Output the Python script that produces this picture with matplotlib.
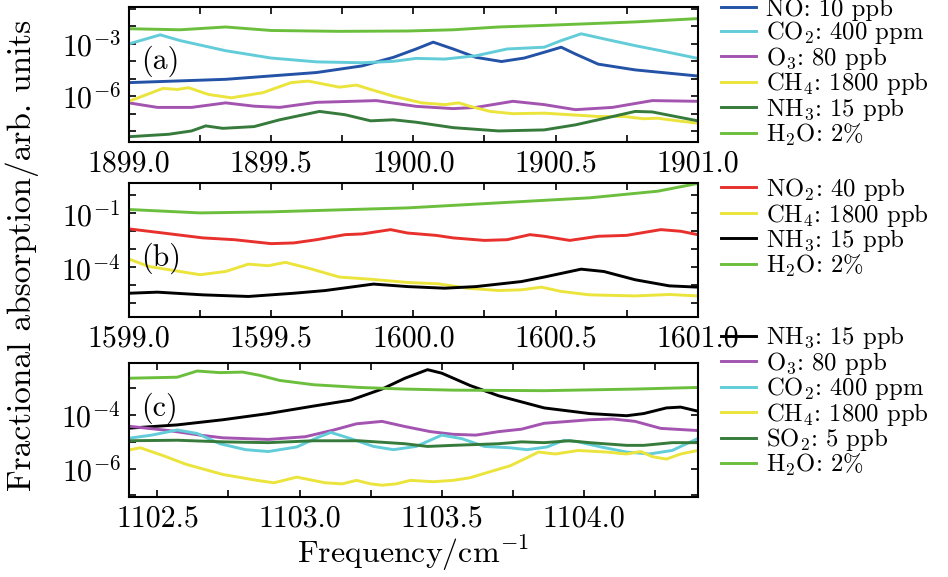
import matplotlib
matplotlib.use('Agg')
import matplotlib.pyplot as plt
import numpy as np
from matplotlib.ticker import MultipleLocator, NullLocator

plt.rcParams['font.family'] = 'serif'
plt.rcParams['font.serif'] = ['cmr10']
plt.rcParams['mathtext.fontset'] = 'cm'
plt.rcParams['axes.formatter.use_mathtext'] = True
plt.rcParams['axes.unicode_minus'] = False

# colours
c_no = '#2352a6'
c_co2 = '#62ccd9'
c_o3 = '#a354b0'
c_ch4 = '#ebe43c'
c_nh3g = '#367b3b'
c_h2o = '#6bbf3d'
c_no2 = '#e8302c'
c_blk = '#000000'

# ---- panel (a): 1899-1901 cm-1, values as log10(absorption) ----
a_h2o_f = [1899.00, 1899.18, 1899.34, 1899.50, 1899.74, 1899.98, 1900.14, 1900.30,
           1900.46, 1900.62, 1900.78, 1901.00]
a_h2o_v = [-2.13, -2.19, -2.03, -2.23, -2.28, -2.26, -2.19, -2.03,
           -1.94, -1.84, -1.74, -1.55]

a_co2_f = [1899.00, 1899.11, 1899.18, 1899.34, 1899.50, 1899.66, 1899.82, 1899.93,
           1900.01, 1900.11, 1900.22, 1900.33, 1900.46, 1900.52, 1900.59, 1900.67,
           1900.78, 1900.87, 1901.00]
a_co2_v = [-3.00, -2.48, -2.81, -3.39, -3.81, -4.03, -4.08, -4.00,
           -3.83, -3.87, -3.68, -3.29, -3.19, -2.81, -2.42, -2.71,
           -3.10, -3.39, -3.83]

a_no_f = [1899.00, 1899.34, 1899.66, 1899.82, 1899.93, 1900.01, 1900.07, 1900.14,
          1900.22, 1900.31, 1900.39, 1900.46, 1900.52, 1900.57, 1900.65, 1900.78,
          1901.00]
a_no_v = [-5.22, -5.03, -4.64, -4.26, -3.77, -3.29, -2.90, -3.29,
          -3.77, -4.01, -3.81, -3.48, -3.19, -3.58, -4.16, -4.49,
          -4.84]

a_o3_f = [1899.00, 1899.10, 1899.22, 1899.34, 1899.44, 1899.53, 1899.66, 1899.87,
          1900.01, 1900.14, 1900.22, 1900.35, 1900.46, 1900.57, 1900.70, 1900.84,
          1901.00]
a_o3_v = [-6.38, -6.64, -6.64, -6.38, -6.57, -6.64, -6.35, -6.25,
          -6.58, -6.71, -6.64, -6.29, -6.48, -6.77, -6.64, -6.25,
          -6.29]

a_ch4_f = [1899.00, 1899.12, 1899.17, 1899.21, 1899.28, 1899.36, 1899.47, 1899.57,
           1899.63, 1899.69, 1899.74, 1899.80, 1899.85, 1899.93, 1900.03, 1900.11,
           1900.16, 1900.20, 1900.27, 1900.35, 1900.46, 1900.55, 1900.65, 1900.74,
           1900.81, 1900.86, 1900.90, 1901.00]
a_ch4_v = [-6.29, -5.55, -5.61, -5.51, -5.90, -6.09, -5.80, -5.22,
           -5.13, -5.32, -5.48, -5.36, -5.61, -6.00, -6.38, -6.48,
           -6.38, -6.58, -6.87, -7.00, -6.97, -7.06, -7.16, -7.16,
           -7.29, -7.26, -7.35, -7.55]

a_nh3_f = [1899.00, 1899.14, 1899.22, 1899.27, 1899.33, 1899.44, 1899.53, 1899.67,
           1899.76, 1899.85, 1899.93, 1900.01, 1900.14, 1900.30, 1900.46, 1900.57,
           1900.65, 1900.78, 1900.84, 1901.00]
a_nh3_v = [-8.32, -8.18, -7.99, -7.70, -7.84, -7.74, -7.35, -6.87,
           -7.06, -7.41, -7.35, -7.49, -7.80, -7.99, -7.93, -7.64,
           -7.35, -6.87, -6.90, -7.41]

# ---- panel (b): 1599-1601 cm-1 ----
b_h2o_f = [1599.00, 1599.25, 1599.50, 1599.98, 1600.30, 1600.62, 1600.86, 1601.00]
b_h2o_v = [-0.78, -0.97, -0.91, -0.69, -0.41, -0.13, 0.24, 0.67]

b_no2_f = [1599.00, 1599.10, 1599.26, 1599.37, 1599.50, 1599.58, 1599.66, 1599.76,
           1599.82, 1599.92, 1599.98, 1600.08, 1600.14, 1600.25, 1600.33, 1600.41,
           1600.46, 1600.55, 1600.65, 1600.75, 1600.87, 1600.94, 1601.00]
b_no2_v = [-1.86, -2.05, -2.36, -2.46, -2.68, -2.64, -2.46, -2.18,
           -2.14, -1.90, -2.09, -2.22, -2.36, -2.50, -2.46, -2.18,
           -2.27, -2.50, -2.27, -2.22, -1.90, -1.99, -2.18]

b_ch4_f = [1599.00, 1599.07, 1599.25, 1599.34, 1599.42, 1599.49, 1599.55, 1599.63,
           1599.74, 1599.85, 1599.98, 1600.09, 1600.19, 1600.30, 1600.38, 1600.45,
           1600.52, 1600.62, 1600.78, 1600.90, 1601.00]
b_ch4_v = [-3.54, -3.95, -4.41, -4.23, -3.82, -3.91, -3.72, -4.04,
           -4.54, -4.66, -4.84, -4.92, -5.16, -5.29, -5.25, -5.10,
           -5.34, -5.53, -5.59, -5.51, -5.59]

b_nh3_f = [1599.00, 1599.10, 1599.26, 1599.42, 1599.58, 1599.69, 1599.86, 1599.98,
           1600.11, 1600.22, 1600.38, 1600.46, 1600.59, 1600.67, 1600.78, 1600.90,
           1601.00]
b_nh3_v = [-5.44, -5.38, -5.53, -5.62, -5.44, -5.29, -4.93, -5.07,
           -5.16, -5.07, -4.79, -4.54, -4.10, -4.23, -4.69, -5.03,
           -5.10]

# ---- panel (c): 1102.4-1104.4 cm-1 ----
c_h2o_f = [1102.39, 1102.57, 1102.64, 1102.72, 1102.80, 1102.86, 1102.93, 1103.05,
           1103.21, 1103.37, 1103.54, 1103.86, 1104.18, 1104.40]
c_h2o_v = [-2.65, -2.61, -2.38, -2.44, -2.42, -2.54, -2.73, -2.89,
           -2.99, -3.05, -3.09, -3.11, -3.05, -2.99]

c_nh3_f = [1102.39, 1102.57, 1102.73, 1102.89, 1103.05, 1103.18, 1103.29, 1103.37,
           1103.45, 1103.50, 1103.60, 1103.70, 1103.86, 1104.02, 1104.15, 1104.21,
           1104.29, 1104.34, 1104.40]
c_nh3_v = [-4.51, -4.38, -4.19, -3.96, -3.68, -3.46, -3.05, -2.65,
           -2.33, -2.46, -2.92, -3.30, -3.75, -3.96, -4.04, -3.96,
           -3.75, -3.72, -3.87]

c_o3_f = [1102.39, 1102.54, 1102.65, 1102.73, 1102.89, 1103.02, 1103.12, 1103.20,
          1103.29, 1103.37, 1103.46, 1103.54, 1103.62, 1103.70, 1103.78, 1103.86,
          1104.02, 1104.10, 1104.18, 1104.27, 1104.40]
c_o3_v = [-4.42, -4.59, -4.76, -4.86, -4.92, -4.82, -4.57, -4.34,
          -4.25, -4.44, -4.63, -4.73, -4.76, -4.63, -4.54, -4.32,
          -4.19, -4.16, -4.25, -4.51, -4.59]

c_co2_f = [1102.39, 1102.48, 1102.57, 1102.64, 1102.72, 1102.81, 1102.89, 1102.99,
           1103.07, 1103.11, 1103.18, 1103.26, 1103.33, 1103.41, 1103.50, 1103.57,
           1103.65, 1103.74, 1103.80, 1103.87, 1103.93, 1103.98, 1104.06, 1104.15,
           1104.23, 1104.31, 1104.40]
c_co2_v = [-4.89, -4.76, -4.57, -4.70, -5.08, -5.30, -5.37, -5.20,
           -4.82, -4.66, -4.89, -5.18, -5.30, -5.18, -4.76, -4.89,
           -5.18, -5.23, -5.30, -5.20, -4.95, -5.01, -5.20, -5.39,
           -5.46, -5.33, -4.89]

c_so2_f = [1102.39, 1102.57, 1102.73, 1102.89, 1103.05, 1103.21, 1103.37, 1103.45,
           1103.54, 1103.70, 1103.78, 1103.86, 1103.95, 1104.02, 1104.15, 1104.21,
           1104.31, 1104.40]
c_so2_v = [-4.97, -4.95, -5.01, -5.04, -4.97, -4.97, -5.08, -5.18,
           -5.14, -5.08, -5.01, -5.04, -4.97, -5.04, -5.14, -5.14,
           -5.04, -5.04]

c_ch4_f = [1102.39, 1102.44, 1102.52, 1102.60, 1102.73, 1102.85, 1102.91, 1102.99,
           1103.09, 1103.15, 1103.20, 1103.25, 1103.29, 1103.34, 1103.39, 1103.47,
           1103.54, 1103.60, 1103.66, 1103.74, 1103.79, 1103.84, 1103.90, 1103.98,
           1104.08, 1104.15, 1104.20, 1104.24, 1104.29, 1104.34, 1104.40]
c_ch4_v = [-5.33, -5.23, -5.52, -5.84, -6.22, -6.44, -6.53, -6.32,
           -6.53, -6.57, -6.44, -6.57, -6.62, -6.57, -6.44, -6.49,
           -6.44, -6.34, -6.15, -5.90, -5.65, -5.39, -5.46, -5.33,
           -5.39, -5.46, -5.37, -5.56, -5.65, -5.46, -5.33]

panels = [
    dict(xlim=(1899.0, 1901.0), ylog=(-8.62, -0.88), ylabels={-3: '$10^{-3}$', -6: '$10^{-6}$'},
         tag='(a)', tag_y=0.60, leg_y=1.003,
         series=[(a_no_f, a_no_v, c_no, 'NO: 10 ppb'),
                 (a_co2_f, a_co2_v, c_co2, 'CO$_2$: 400 ppm'),
                 (a_o3_f, a_o3_v, c_o3, 'O$_3$: 80 ppb'),
                 (a_ch4_f, a_ch4_v, c_ch4, 'CH$_4$: 1800 ppb'),
                 (a_nh3_f, a_nh3_v, c_nh3g, 'NH$_3$: 15 ppb'),
                 (a_h2o_f, a_h2o_v, c_h2o, 'H$_2$O: 2%')]),
    dict(xlim=(1599.0, 1601.0), ylog=(-6.75, 0.7), ylabels={-1: '$10^{-1}$', -4: '$10^{-4}$'},
         tag='(b)', tag_y=0.44, leg_y=0.695,
         series=[(b_no2_f, b_no2_v, c_no2, 'NO$_2$: 40 ppb'),
                 (b_ch4_f, b_ch4_v, c_ch4, 'CH$_4$: 1800 ppb'),
                 (b_nh3_f, b_nh3_v, c_blk, 'NH$_3$: 15 ppb'),
                 (b_h2o_f, b_h2o_v, c_h2o, 'H$_2$O: 2%')]),
    dict(xlim=(1102.4, 1104.4), ylog=(-7.05, -2.08), ylabels={-4: '$10^{-4}$', -6: '$10^{-6}$'},
         tag='(c)', tag_y=0.66, leg_y=0.438,
         series=[(c_nh3_f, c_nh3_v, c_blk, 'NH$_3$: 15 ppb'),
                 (c_o3_f, c_o3_v, c_o3, 'O$_3$: 80 ppb'),
                 (c_co2_f, c_co2_v, c_co2, 'CO$_2$: 400 ppm'),
                 (c_ch4_f, c_ch4_v, c_ch4, 'CH$_4$: 1800 ppb'),
                 (c_so2_f, c_so2_v, c_nh3g, 'SO$_2$: 5 ppb'),
                 (c_h2o_f, c_h2o_v, c_h2o, 'H$_2$O: 2%')]),
]

fig = plt.figure(figsize=(9.48, 5.77), dpi=100)
boxes = [(0.754, 0.988), (0.451, 0.683), (0.139, 0.371)]
left, right = 0.136, 0.736

for p, (bot, top) in zip(panels, boxes):
    ax = fig.add_axes([left, bot, right - left, top - bot])
    for f, v, col, lab in p['series']:
        ax.plot(f, 10.0 ** np.array(v), color=col, lw=2.1, label=lab)
    ax.set_yscale('log')
    ax.set_xlim(*p['xlim'])
    ax.set_ylim(10 ** p['ylog'][0], 10 ** p['ylog'][1])

    decades = list(range(int(np.ceil(p['ylog'][0])), int(np.floor(p['ylog'][1])) + 1))
    ax.set_yticks([10.0 ** k for k in decades])
    ax.set_yticklabels([p['ylabels'].get(k, '') for k in decades])
    ax.yaxis.set_minor_locator(NullLocator())

    ax.xaxis.set_major_locator(MultipleLocator(0.5))
    ax.xaxis.set_minor_locator(MultipleLocator(0.25))
    ax.xaxis.set_major_formatter(matplotlib.ticker.FormatStrFormatter('%.1f'))

    ax.tick_params(which='both', direction='in', top=True, right=True,
                   labelsize=21.5, width=1.2)
    ax.tick_params(which='major', length=5, pad=6)
    ax.tick_params(which='minor', length=5)
    for s in ax.spines.values():
        s.set_linewidth(1.5)

    ax.text(0.022, p['tag_y'], p['tag'], transform=ax.transAxes, fontsize=21.5,
            va='center', ha='left')

    ax.legend(loc='upper left', bbox_to_anchor=(0.761, p['leg_y']),
              bbox_transform=fig.transFigure, frameon=False, fontsize=17.8,
              borderpad=0, borderaxespad=0, handlelength=1.4,
              handletextpad=0.4, labelspacing=-0.06)

fig.text(0.023, 0.557, 'Fractional absorption/arb. units', rotation=90,
         fontsize=24, ha='center', va='center')
fig.text(0.436, 0.042, 'Frequency/cm$^{-1}$', fontsize=23, ha='center',
         va='center')

fig.savefig('out.png', dpi=100)
